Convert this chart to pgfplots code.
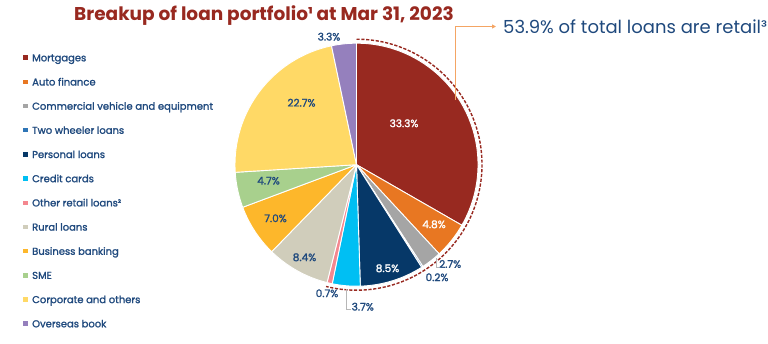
\documentclass[border=0pt]{standalone}
\usepackage{pgfplots}
\pgfplotsset{compat=1.18}
\usepackage{fontspec}
\setmainfont{Poppins}
\newfontfamily\semi{Poppins}[FakeBold=1.6]
\usetikzlibrary{arrows.meta}
\definecolor{cMort}{RGB}{152,41,32}
\definecolor{cAuto}{RGB}{232,119,34}
\definecolor{cCV}{RGB}{165,165,165}
\definecolor{cTW}{RGB}{46,117,182}
\definecolor{cPL}{RGB}{6,56,104}
\definecolor{cCC}{RGB}{0,191,243}
\definecolor{cOth}{RGB}{244,135,143}
\definecolor{cRur}{RGB}{208,205,187}
\definecolor{cBB}{RGB}{253,183,43}
\definecolor{cSME}{RGB}{168,208,141}
\definecolor{cCorp}{RGB}{255,217,102}
\definecolor{cOvs}{RGB}{149,128,189}
\definecolor{cTxt}{RGB}{31,73,125}
\definecolor{cTitle}{RGB}{152,41,32}
\definecolor{cArrow}{RGB}{244,165,100}
\newcommand\fs[1]{\fontsize{#1bp}{#1bp}\selectfont}
% slice: start percentage, value percentage, colour
\newcommand\slice[3]{%
  \fill[#3, draw=white, line width=0.9bp, line join=round]
    (axis cs:356.5,164.7) -- ++({90-3.6*(#1)}:121.5bp)
    arc[start angle={90-3.6*(#1)}, delta angle={-3.6*(#2)}, radius=121.5bp] -- cycle;}
\newcommand\legitem[3]{%
  \fill[#2] (axis cs:23.3,#1-2.3) rectangle (axis cs:27.8,#1+2.2);
  \node[anchor=base west, inner sep=0, text=cTxt, font=\semi\fs{10}] at (axis cs:32,#1+3.6) {#3};}
\begin{document}
\begin{tikzpicture}
\path (0,0) rectangle (768bp,344bp);
\begin{axis}[scale only axis, width=768bp, height=344bp,
  xmin=0, xmax=768, ymin=0, ymax=344, y dir=reverse,
  hide axis, clip=false]
% pie slices (start %, value %)
\slice{0}{33.3}{cMort}
\slice{33.3}{4.8}{cAuto}
\slice{38.1}{2.7}{cCV}
\slice{40.8}{0.2}{cTW}
\slice{41.0}{8.5}{cPL}
\slice{49.5}{3.7}{cCC}
\slice{53.2}{0.7}{cOth}
\slice{53.9}{8.4}{cRur}
\slice{62.3}{7.0}{cBB}
\slice{69.3}{4.7}{cSME}
\slice{74.0}{22.7}{cCorp}
\slice{96.7}{3.3}{cOvs}
% retail dashed arc (53.9%)
\draw[cMort, line width=1.4bp, dash pattern=on 3.2bp off 1.6bp]
  (axis cs:356.5,164.7) ++(90:125.5bp) arc[start angle=90, delta angle={-3.6*53.9}, radius=125.5bp];
% labels
\begin{scope}[every node/.style={font=\semi\fs{10.5}, text=cTxt, inner sep=0}]
\node[text=white] at (axis cs:404,123.3) {33.3\%};
\node[text=white] at (axis cs:434,224.3) {4.8\%};
\node[text=white] at (axis cs:387.5,268.3) {8.5\%};
\node at (axis cs:301.5,102.7) {22.7\%};
\node at (axis cs:329,36.7) {3.3\%};
\node at (axis cs:268.5,180.7) {4.7\%};
\node at (axis cs:275.5,218.3) {7.0\%};
\node at (axis cs:304.5,257.3) {8.4\%};
\node[anchor=west] at (axis cs:439,264) {2.7\%};
\node at (axis cs:437,277.3) {0.2\%};
\node at (axis cs:327,293.3) {0.7\%};
\node[anchor=west] at (axis cs:351.5,306.7) {3.7\%};
\end{scope}
% leader lines
\draw[cCV!80, line width=0.6bp] (axis cs:436,258) -- (axis cs:436,267.5) -- (axis cs:438.5,267.5);
\draw[cCV!80, line width=0.6bp] (axis cs:346.7,289) -- (axis cs:346.7,309.5) -- (axis cs:350.5,309.5);
% callout arrow
\draw[cArrow, line width=1.1bp, -{Triangle[length=4bp,width=4bp]}]
  (axis cs:455.7,100) -- (axis cs:455.7,26.5) -- (axis cs:496,26.5);
\node[anchor=base west, inner sep=0, text=cTxt, font=\fs{18}] at (axis cs:503,33.3) {53.9\% of total loans are retail³};
% title
\node[anchor=base, inner sep=0, text=cTitle, font=\fs{18.5}\bfseries] at (axis cs:264,20.5) {Breakup of loan portfolio¹ at Mar 31, 2023};
% legend
\legitem{57.7}{cMort}{Mortgages}
\legitem{81.9}{cAuto}{Auto finance}
\legitem{106.1}{cCV}{Commercial vehicle and equipment}
\legitem{130.2}{cTW}{Two wheeler loans}
\legitem{154.4}{cPL}{Personal loans}
\legitem{178.6}{cCC}{Credit cards}
\legitem{202.8}{cOth}{Other retail loans²}
\legitem{227.0}{cRur}{Rural loans}
\legitem{251.2}{cBB}{Business banking}
\legitem{275.3}{cSME}{SME}
\legitem{299.5}{cCorp}{Corporate and others}
\legitem{323.7}{cOvs}{Overseas book}
\end{axis}
\end{tikzpicture}
\end{document}
